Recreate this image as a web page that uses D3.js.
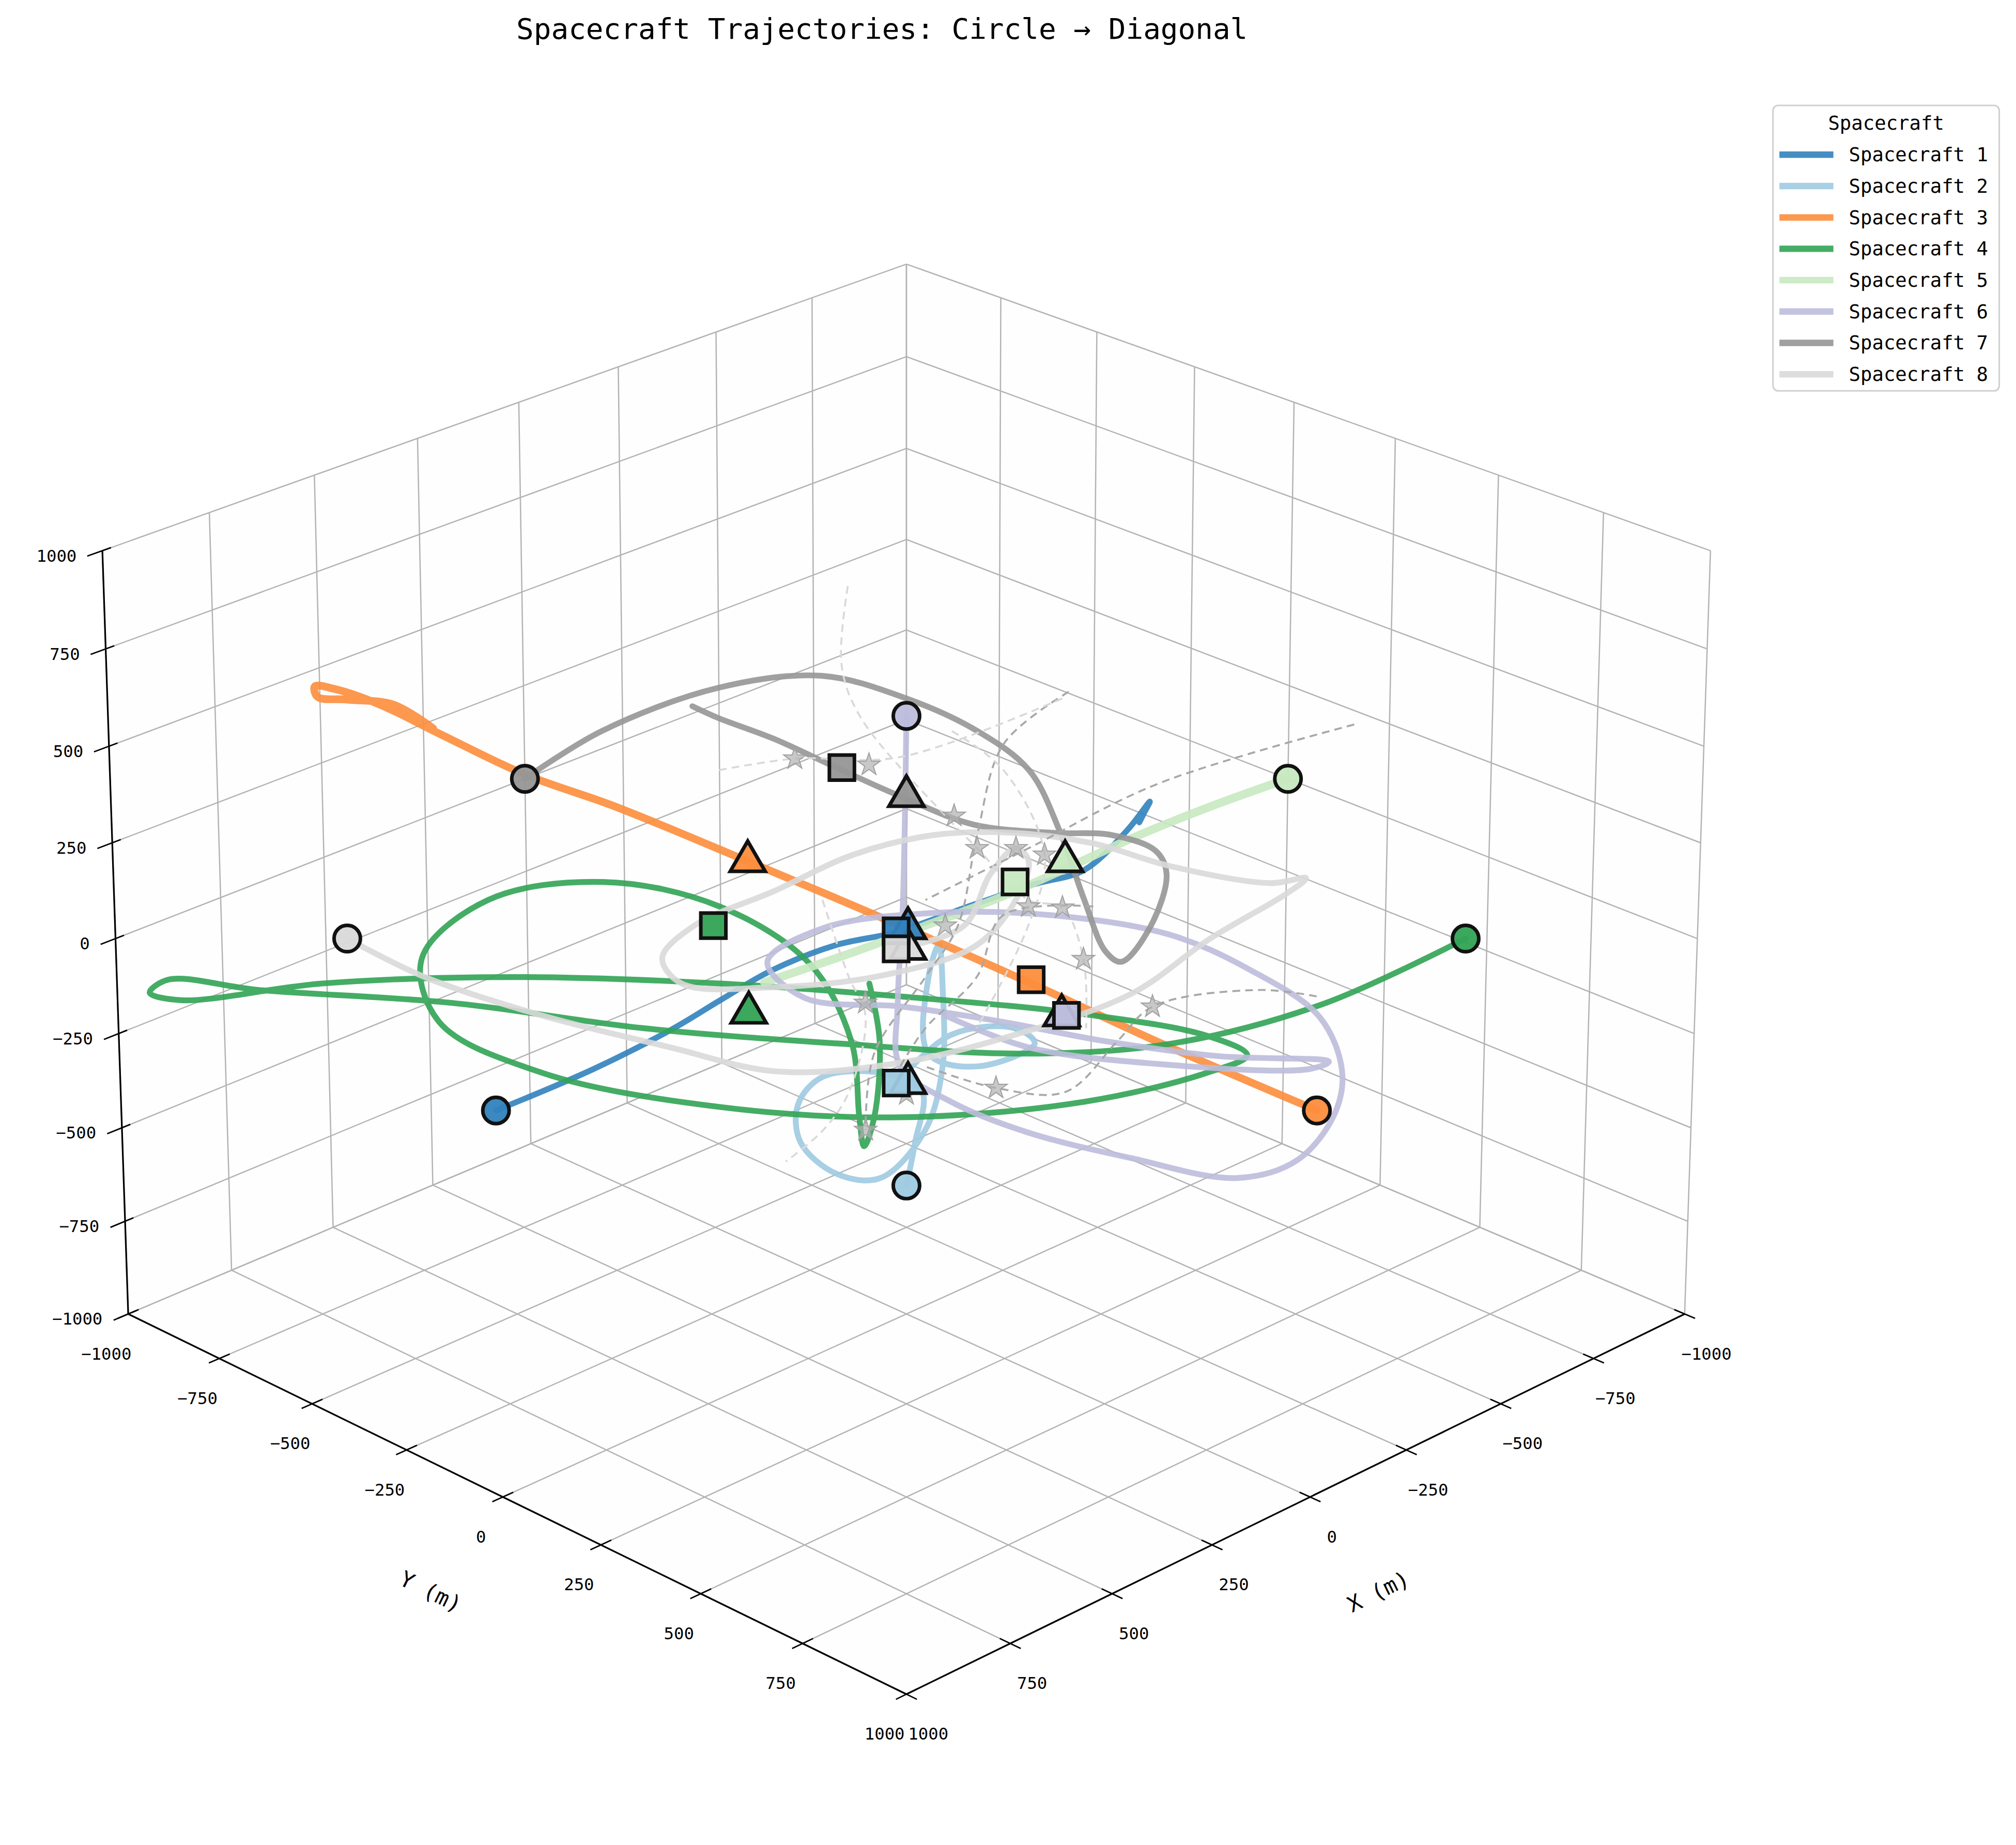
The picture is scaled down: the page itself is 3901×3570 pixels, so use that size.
<!DOCTYPE html>
<html><head><meta charset="utf-8">
<script src="https://cdn.jsdelivr.net/npm/d3@7"></script>
<style>body{margin:0;background:#fff}</style></head>
<body><svg id="c" width="3901" height="3570" viewBox="0 0 1568 1435"></svg>
<script>
const names=["Spacecraft 1","Spacecraft 2","Spacecraft 3","Spacecraft 4","Spacecraft 5","Spacecraft 6","Spacecraft 7","Spacecraft 8"];
const colors=["#3182bd","#9ecae1","#fd8d3c","#31a354","#c7e9c0","#bcbddc","#969696","#d9d9d9"];
const tickVals=[-1000,-750,-500,-250,0,250,500,750,1000];
const sc1=[[1000,0,0],[398,-398,-344],[298,-298,-239],[236,-236,-162],[171,-171,-84],[89,-89,-17],[13,-13,17],[-78,78,84],[-161,161,142],[-224,224,179],[-278,278,283],[-306,306,357],[-298,298,324],[-293,293,303]];
const sc2=[[707,707,0],[-11,11,-539],[-20,20,-404],[24,-24,-357],[106,-106,-364],[138,-138,-438],[135,-135,-539],[89,-89,-623],[33,-33,-634],[-24,24,-506],[-46,46,-337],[-46,46,-135],[-41,41,-17],[-28,28,-101],[-28,28,-303],[-89,89,-337],[-163,163,-276],[-138,138,-236],[-57,57,-253],[13,-13,-381]];
const sc3=[[0,1000,0],[-317,317,-270],[-158,158,-118],[0,0,27],[200,-200,202],[366,-366,344],[480,-480,428],[585,-585,532],[659,-659,607],[715,-715,647],[740,-740,654],[737,-737,627],[699,-699,620],[642,-642,607],[593,-593,546]];
const sc4=[[-707,707,0],[-528,528,-172],[-338,338,-276],[-154,154,-303],[89,-89,-276],[333,-333,-236],[577,-577,-169],[821,-821,-135],[935,-935,-108],[959,-959,-142],[919,-919,-162],[740,-740,-118],[496,-496,-101],[236,-236,-118],[8,-8,-152],[-226,226,-199],[-382,382,-256],[-433,433,-307],[-382,382,-354],[-226,226,-431],[8,-8,-472],[236,-236,-445],[463,-463,-354],[593,-593,-219],[613,-613,-51],[528,-528,101],[382,-382,148],[236,-236,84],[122,-122,-67],[70,-70,-270],[60,-60,-472],[54,-54,-549],[41,-41,-472],[34,-34,-270],[47,-47,-118]];
const sc5=[[-1000,0,0],[-382,382,344],[-285,285,263],[-203,203,185],[-122,122,111],[-24,24,34],[73,-73,-40],[180,-180,-115]];
const sc6=[[-707,-707,0],[2,-2,303],[5,-5,61],[11,-11,-169],[8,-8,-337],[-57,57,-431],[-154,154,-512],[-285,285,-580],[-423,423,-634],[-499,499,-586],[-545,545,-465],[-554,554,-350],[-524,524,-206],[-434,434,-81],[-333,333,10],[-184,184,61],[-34,34,67],[106,-106,27],[176,-176,-61],[130,-130,-155],[5,-5,-179],[-122,122,-219],[-252,252,-270],[-398,398,-310],[-537,537,-324],[-512,512,-344],[-317,317,-330],[-154,154,-286],[-49,49,-202]];
const sc7=[[0,-1000,0],[382,-382,539],[236,-236,650],[106,-106,681],[0,0,623],[-89,89,539],[-154,154,438],[-193,193,280],[-224,224,104],[-252,252,-34],[-272,272,-61],[-309,309,34],[-328,328,169],[-314,314,229],[-259,259,270],[-184,184,276],[-85,85,297],[0,0,364],[81,-81,438],[166,-166,519],[236,-236,573],[268,-268,603]];
const sc8=[[707,-707,0],[610,-610,-101],[463,-463,-202],[301,-301,-286],[166,-166,-350],[16,-16,-330],[-133,133,-256],[-285,285,-145],[-384,384,0],[-480,480,118],[-504,504,158],[-459,459,145],[-333,333,189],[-234,234,249],[-133,133,276],[-34,34,270],[67,-67,219],[166,-166,125],[268,-268,34],[309,-309,-51],[285,-285,-118],[171,-171,-128],[24,-24,-94],[-89,89,-17],[-138,138,101],[-154,154,202],[-138,138,236],[-106,106,169],[-73,73,34],[13,-13,-27]];
const squares=[[13,-13,20],[13,-13,-381],[-158,158,-108],[244,-244,34],[-137,137,148],[-203,203,-202],[81,-81,445],[13,-13,-27]];
const triangles=[[-2,2,27],[-2,2,-381],[200,-200,202],[200,-200,-195],[-200,200,202],[-197,197,-202],[0,0,371],[-2,2,-27]];
const guidesDark=[
 [[-203,203,640],[-122,122,506],[-89,89,270],[-65,65,34],[-24,24,-101],[41,-41,-303],[52,-52,-506]],
 [[-561,561,556],[-317,317,404],[-154,154,236],[-24,24,101]],
 [[-520,520,-152],[-447,447,-135],[-312,312,-179],[-268,268,-270],[-203,203,-404],[-114,114,-394],[-24,24,-337]],
 [[-236,236,84],[-122,122,61],[-89,89,-101],[-24,24,-236],[8,-8,-337]]];
const guidesLight=[
 [[73,-73,910],[81,-81,708],[57,-57,573],[-57,57,303],[-89,89,236],[-154,154,101],[-197,197,81],[-224,224,-54],[-228,228,-236]],
 [[-195,195,623],[8,-8,472],[140,-140,468],[236,-236,438]],
 [[106,-106,101],[73,-73,-101],[52,-52,-202],[73,-73,-404],[106,-106,-506],[154,-154,-590]],
 [[-57,57,539],[-122,122,438],[-174,174,219],[-154,154,34],[-89,89,-236]]];
const stars=[[140,-140,468],[47,-47,452],[-60,60,320],[-89,89,236],[-138,138,236],[-174,174,219],[-197,197,81],[-154,154,84],[-224,224,-54],[-312,312,-179],[-114,114,-394],[0,0,-411],[52,-52,-506],[52,-52,-169],[-49,49,34]];

const svg=d3.select("#c");
const FONT="'DejaVu Sans Mono', monospace";
const s=0.403,c=0.915,D=17.7,ZA=0.7175;
const nx=d3.scaleLinear().domain([-1000,1000]).range([-1,1]);
const nz=d3.scaleLinear().domain([-1000,1000]).range([-ZA,ZA]);
const sx=d3.scaleLinear().domain([0,1]).range([705,1140]);
const sy=d3.scaleLinear().domain([0,1]).range([730,278]);
function P(p){const u=nx(p[0]),v=nx(p[1]),w=nz(p[2]);
 const h=(v-u)/Math.SQRT2,d=(u+v)/Math.SQRT2;
 const up=w*c-d*s,dep=d*c+w*s,f=D/(D-dep);
 return [sx(h*f),sy(up*f)];}
const seg=(a,b,col,wd)=>{const A=P(a),B=P(b);svg.append("line").attr("x1",A[0]).attr("y1",A[1]).attr("x2",B[0]).attr("y2",B[1]).attr("stroke",col).attr("stroke-width",wd);};
const poly=pts=>svg.append("polygon").attr("points",pts.map(p=>P(p).join(",")).join(" ")).attr("fill","#fefefe").attr("stroke","none");
poly([[-1000,-1000,-1000],[1000,-1000,-1000],[1000,-1000,1000],[-1000,-1000,1000]]);
poly([[-1000,-1000,-1000],[-1000,1000,-1000],[-1000,1000,1000],[-1000,-1000,1000]]);
poly([[-1000,-1000,-1000],[1000,-1000,-1000],[1000,1000,-1000],[-1000,1000,-1000]]);
const G="#b3b3b3";
tickVals.forEach(t=>{
 seg([t,-1000,-1000],[t,-1000,1000],G,1); seg([-1000,-1000,t],[1000,-1000,t],G,1);
 seg([-1000,t,-1000],[-1000,t,1000],G,1); seg([-1000,-1000,t],[-1000,1000,t],G,1);
 seg([t,-1000,-1000],[t,1000,-1000],G,1); seg([-1000,t,-1000],[1000,t,-1000],G,1);
});
seg([1000,-1000,-1000],[1000,-1000,1000],"#000",1.3);
seg([1000,-1000,-1000],[1000,1000,-1000],"#000",1.3);
seg([-1000,1000,-1000],[1000,1000,-1000],"#000",1.3);
const fmt=v=>String(v).replace("-","\u2212");
tickVals.forEach(t=>{
 seg([1035,-1000,t],[980,-1000,t],"#000",1.1);
 let p=P([1000,-1000,t]);
 svg.append("text").attr("x",p[0]-20).attr("y",p[1]+4).attr("text-anchor","end").attr("dominant-baseline","central").attr("font-family",FONT).attr("font-size",13).text(fmt(t));
 seg([1025,t,-1000],[975,t,-1000],"#000",1.1);
 p=P([1000,t,-1000]);
 svg.append("text").attr("x",p[0]-17).attr("y",p[1]+31).attr("text-anchor","middle").attr("dominant-baseline","central").attr("font-family",FONT).attr("font-size",13).text(fmt(t));
 seg([t,1025,-1000],[t,975,-1000],"#000",1.1);
 p=P([t,1000,-1000]);
 svg.append("text").attr("x",p[0]+17).attr("y",p[1]+31).attr("text-anchor","middle").attr("dominant-baseline","central").attr("font-family",FONT).attr("font-size",13).text(fmt(t));
});
svg.append("text").attr("transform","translate(335,1238) rotate(26)").attr("text-anchor","middle").attr("dominant-baseline","central").attr("font-family",FONT).attr("font-size",17).text("Y (m)");
svg.append("text").attr("transform","translate(1072,1238) rotate(-26)").attr("text-anchor","middle").attr("dominant-baseline","central").attr("font-family",FONT).attr("font-size",17).text("X (m)");
const line=d3.line().curve(d3.curveCatmullRom.alpha(0.5));
const trajs=[sc1,sc2,sc3,sc4,sc5,sc6,sc7,sc8];
const widths=[4.5,4.5,6,4.5,6.5,4.5,4.5,4.5];
trajs.forEach((t,i)=>svg.append("path").attr("d",line(t.map(P))).attr("fill","none").attr("stroke",colors[i]).attr("stroke-width",widths[i]).attr("stroke-opacity",0.9).attr("stroke-linejoin","round").attr("stroke-linecap","round"));
guidesDark.forEach(g=>svg.append("path").attr("d",line(g.map(P))).attr("fill","none").attr("stroke","#a8a8a8").attr("stroke-width",1.5).attr("stroke-dasharray","6,4"));
guidesLight.forEach(g=>svg.append("path").attr("d",line(g.map(P))).attr("fill","none").attr("stroke","#d9d9d9").attr("stroke-width",1.5).attr("stroke-dasharray","6,4"));
const star=d3.symbol().type(d3.symbolStar).size(95)();
stars.forEach(p=>{const q=P(p);svg.append("path").attr("d",star).attr("transform",`translate(${q[0]},${q[1]})`).attr("fill","#b0b0b0").attr("fill-opacity",0.7).attr("stroke","#a0a0a0").attr("stroke-width",0.8);});
const mk=(type,size,p,i)=>{const q=P(p);svg.append("path").attr("d",d3.symbol().type(type).size(size)()).attr("transform",`translate(${q[0]},${q[1]})`).attr("fill",colors[i]).attr("fill-opacity",0.95).attr("stroke","#111").attr("stroke-width",2.8);};
trajs.forEach((t,i)=>mk(d3.symbolCircle,330,t[0],i));
triangles.forEach((p,i)=>mk(d3.symbolTriangle,320,p,i));
squares.forEach((p,i)=>mk(d3.symbolSquare,380,p,i));
svg.append("text").attr("x",686).attr("y",30).attr("text-anchor","middle").attr("font-family",FONT).attr("font-size",22.5).text("Spacecraft Trajectories: Circle \u2192 Diagonal");
const lg=svg.append("g");
lg.append("rect").attr("x",1379).attr("y",82).attr("width",176).attr("height",222).attr("rx",4).attr("fill","#fff").attr("stroke","#d0d0d0").attr("stroke-width",1.2);
lg.append("text").attr("x",1467).attr("y",101).attr("text-anchor","middle").attr("font-family",FONT).attr("font-size",15).text("Spacecraft");
names.forEach((n,i)=>{const y=120.3+i*24.4;
 lg.append("line").attr("x1",1384).attr("x2",1426).attr("y1",y).attr("y2",y).attr("stroke",colors[i]).attr("stroke-opacity",0.9).attr("stroke-width",5);
 lg.append("text").attr("x",1438).attr("y",y).attr("dominant-baseline","central").attr("font-family",FONT).attr("font-size",15).text(n);});
</script></body></html>
